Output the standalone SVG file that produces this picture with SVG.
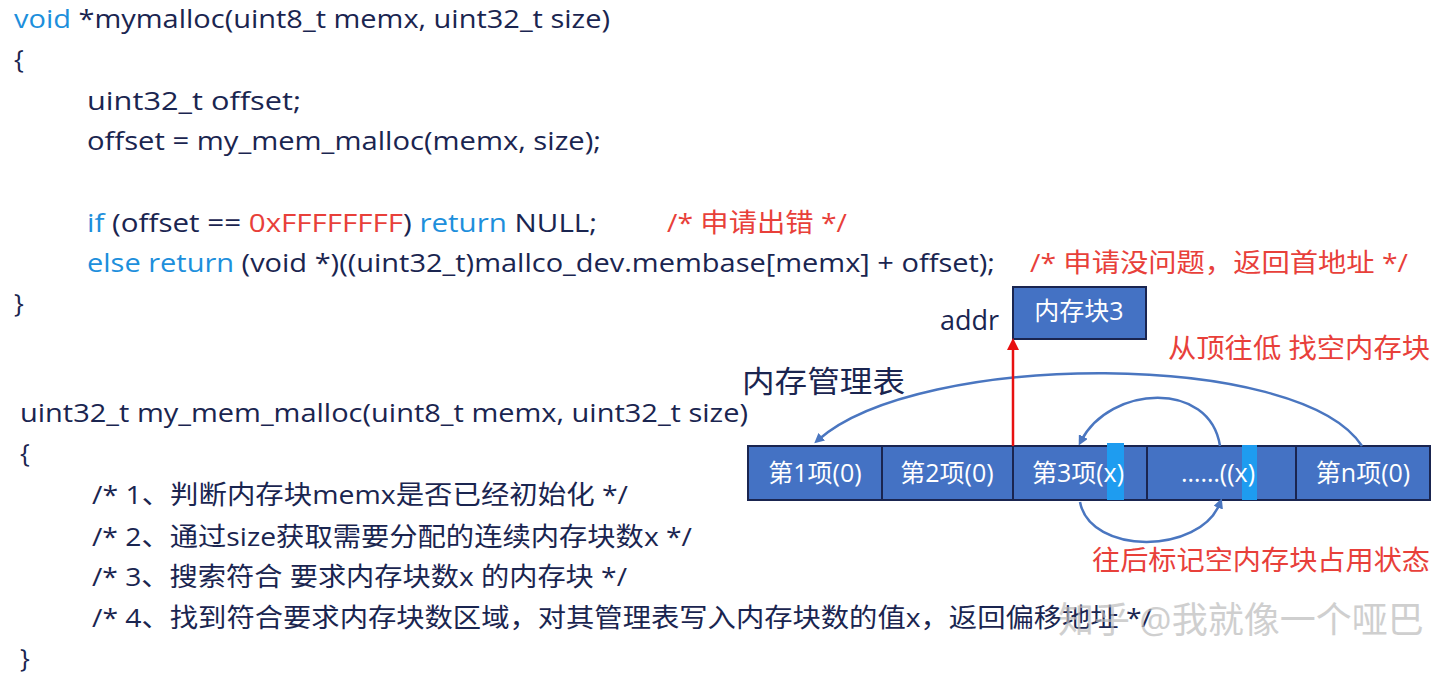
<svg xmlns="http://www.w3.org/2000/svg" width="1440" height="679" viewBox="0 0 1440 679">
<defs>
<marker id="ab" markerWidth="10" markerHeight="10" refX="5" refY="5" orient="auto" markerUnits="userSpaceOnUse"><path d="M0,0 L10,5 L0,10 z" fill="#4a76c0"/></marker>
<marker id="ar" markerWidth="12" markerHeight="12" refX="6" refY="6" orient="auto" markerUnits="userSpaceOnUse"><path d="M0,0 L12,6 L0,12 z" fill="#e81010"/></marker>
</defs>
<style>
text{font-family:"Open Sans","Noto Sans CJK SC",sans-serif;}
.c{font-size:26px;fill:#1a2550;}
.k{fill:#1d8fdc;}
.r{fill:#e8403a;}
.cell{fill:#4472c4;stroke:#1a2550;stroke-width:2;}
.w{fill:#fff;font-size:25px;text-anchor:middle;}
.red{fill:#e8403a;font-size:27px;}
</style>
<rect width="1440" height="679" fill="#fff"/>
<g id="code1">
<text class="c" x="14" y="28" textLength="596" lengthAdjust="spacingAndGlyphs"><tspan class="k">void</tspan> *mymalloc(uint8_t memx, uint32_t size)</text>
<text class="c" x="14" y="68">{</text>
<text class="c" x="87" y="110" textLength="214" lengthAdjust="spacingAndGlyphs">uint32_t offset;</text>
<text class="c" x="87" y="150" textLength="514" lengthAdjust="spacingAndGlyphs">offset = my_mem_malloc(memx, size);</text>
<text class="c" x="87" y="232" textLength="510" lengthAdjust="spacingAndGlyphs"><tspan class="k">if</tspan> (offset == <tspan class="r">0xFFFFFFFF</tspan>) <tspan class="k">return</tspan> NULL;</text>
<text class="c r" x="667" y="232" textLength="180" lengthAdjust="spacingAndGlyphs">/* 申请出错 */</text>
<text class="c" x="87" y="272" textLength="908" lengthAdjust="spacingAndGlyphs"><tspan class="k">else return</tspan> (void *)((uint32_t)mallco_dev.membase[memx] + offset);</text>
<text class="c r" x="1030" y="272" textLength="378" lengthAdjust="spacingAndGlyphs">/* 申请没问题，返回首地址 */</text>
<text class="c" x="14" y="312">}</text>
</g>
<g id="code2">
<text class="c" x="20" y="422" textLength="728" lengthAdjust="spacingAndGlyphs">uint32_t my_mem_malloc(uint8_t memx, uint32_t size)</text>
<text class="c" x="20" y="462">{</text>
<text class="c" x="92" y="504" textLength="536" lengthAdjust="spacingAndGlyphs">/* 1、判断内存块memx是否已经初始化 */</text>
<text class="c" x="92" y="546" textLength="600" lengthAdjust="spacingAndGlyphs">/* 2、通过size获取需要分配的连续内存块数x */</text>
<text class="c" x="92" y="586" textLength="535" lengthAdjust="spacingAndGlyphs">/* 3、搜索符合 要求内存块数x 的内存块 */</text>
<text class="c" x="92" y="627" textLength="1060" lengthAdjust="spacingAndGlyphs">/* 4、找到符合要求内存块数区域，对其管理表写入内存块数的值x，返回偏移地址 */</text>
<text class="c" x="20" y="667">}</text>
</g>
<g id="table">
<rect class="cell" x="748" y="446" width="134" height="54"/>
<rect class="cell" x="882" y="446" width="131" height="54"/>
<rect class="cell" x="1013" y="446" width="134" height="54"/>
<rect class="cell" x="1147" y="446" width="149" height="54"/>
<rect class="cell" x="1296" y="446" width="134" height="54"/>
<rect x="1107" y="443" width="17" height="57" fill="#1e9cf0"/>
<rect x="1242" y="445" width="15" height="55" fill="#1e9cf0"/>
<text class="w" x="815" y="482">第1项(0)</text>
<text class="w" x="947" y="482">第2项(0)</text>
<text class="w" x="1078" y="482">第3项(x)</text>
<text class="w" x="1218" y="482">……((x)</text>
<text class="w" x="1363" y="482">第n项(0)</text>
<text x="742" y="392" font-size="30" fill="#1a2550" textLength="163" lengthAdjust="spacingAndGlyphs">内存管理表</text>
</g>
<g id="block3">
<rect class="cell" x="1013" y="287" width="133" height="52"/>
<text class="w" x="1079" y="320" font-size="22">内存块3</text>
<text x="940" y="330" font-size="27" fill="#1a2550">addr</text>
</g>
<g id="connectors" fill="none" stroke="#4a76c0" stroke-width="2.5">
<path d="M1362,446 C1300,350 920,350 818,440" marker-end="url(#ab)"/>
<path d="M1220,446 C1210,380 1110,385 1081,441" marker-end="url(#ab)"/>
<path d="M1080,502 C1090,555 1200,555 1220,503" marker-end="url(#ab)"/>
<path d="M1013,446 L1013,344" stroke="#e81010" marker-end="url(#ar)"/>
</g>
<g id="labels">
<text class="red" x="1168" y="358" textLength="262" lengthAdjust="spacingAndGlyphs">从顶往低 找空内存块</text>
<text class="red" x="1092" y="570" textLength="338" lengthAdjust="spacingAndGlyphs">往后标记空内存块占用状态</text>
</g>
<text x="1058" y="633" font-size="36" fill="#bbb" opacity="0.7" font-family="Noto Sans CJK SC,sans-serif">知乎 @我就像一个哑巴</text>
</svg>
